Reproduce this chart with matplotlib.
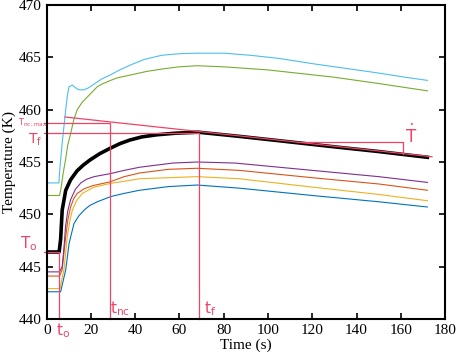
import numpy as np
import matplotlib
matplotlib.use('Agg')
import matplotlib.pyplot as plt

# thermocouple traces (time s, temperature K)
t_cyan = [0, 5.5, 6, 7, 8.6, 9.4, 10.1, 11.6, 13, 14.5, 16.9, 19, 21.4, 25, 29, 33, 37.6, 44, 52, 60, 68, 80, 92, 105, 120, 135, 150, 162, 172]
T_cyan = [453, 453, 454.5, 456.8, 460, 461.4, 462.2, 462.35, 462.1, 461.9, 461.9, 462.1, 462.45, 462.95, 463.35, 463.8, 464.25, 464.8, 465.2, 465.35, 465.4, 465.4, 465.2, 464.9, 464.4, 463.95, 463.5, 463.1, 462.8]

t_green = [0, 5.8, 6.5, 7.5, 8.5, 9.5, 10.8, 12.2, 13.8, 16, 18.3, 22.9, 25.5, 28.9, 32, 37.6, 45, 52.6, 60, 67.8, 79.7, 100, 130, 150, 172]
T_green = [451.8, 451.8, 452.5, 454, 455.2, 456.6, 457.7, 459, 460, 460.7, 461.2, 462.2, 462.5, 462.8, 463.05, 463.3, 463.65, 463.9, 464.1, 464.2, 464.1, 463.8, 463.1, 462.5, 461.8]

t_black = [0, 5.6, 6.3, 7, 8.6, 10.8, 13.7, 16.5, 19.6, 24, 28.6, 33, 37.6, 43, 49.7, 58, 68.4, 87, 100, 130, 150, 172]
T_black = [446.4, 446.4, 447.6, 450.4, 452.3, 453.3, 454.15, 454.7, 455.2, 455.8, 456.3, 456.75, 457.1, 457.4, 457.6, 457.75, 457.85, 457.45, 457.15, 456.45, 456.0, 455.45]

t_purple = [0, 5.8, 7, 8, 8.5, 9.5, 10.8, 13, 15.4, 18, 21.4, 29, 35, 42, 57, 68, 85, 120, 150, 172]
T_purple = [444.5, 444.5, 445, 447.3, 448.8, 450.3, 451.4, 452.4, 453, 453.35, 453.6, 453.9, 454.2, 454.5, 454.9, 455.0, 454.9, 454.2, 453.6, 453.05]

t_red = [0, 5.8, 7, 8.6, 9.6, 10.8, 12.2, 13.8, 17, 21, 28.6, 35, 42, 55, 68, 87, 120, 150, 172]
T_red = [444.1, 444.1, 444.7, 447.9, 449.5, 450.7, 451.5, 452, 452.45, 452.75, 453.1, 453.6, 453.95, 454.3, 454.4, 454.2, 453.5, 452.9, 452.3]

t_yellow = [0, 6, 7.8, 9.3, 10.5, 11.6, 13.5, 16.1, 21.4, 29, 42, 68, 87, 120, 150, 172]
T_yellow = [442.9, 442.9, 444.7, 447.9, 449.4, 450.4, 451.3, 452, 452.6, 452.96, 453.4, 453.6, 453.4, 452.6, 451.9, 451.3]

t_blue = [0, 6.3, 8.6, 10.1, 12.3, 14.5, 16.9, 19.5, 22.9, 29, 35, 42, 55, 68, 87, 120, 150, 172]
T_blue = [442.6, 442.6, 444.7, 447.2, 449.1, 449.85, 450.4, 450.85, 451.2, 451.7, 452.0, 452.3, 452.65, 452.8, 452.5, 451.8, 451.2, 450.7]

# annotation values
t0, t_nc, t_f = 5.7, 28.6, 68.7
T0, T_ncmax, T_f = 446.4, 458.75, 457.8
tan_t = [8.3, 174.1]
tan_T = [459.3, 455.5]

red = '#ee4466'
plt.rcParams['font.family'] = ['Liberation Serif', 'DejaVu Serif']
plt.rcParams['mathtext.fontset'] = 'dejavusans'

fig = plt.figure(figsize=(4.74, 3.6), dpi=100)
ax = fig.add_axes([0.0985, 0.114, 0.8405, 0.872])

ax.plot(t_blue, T_blue, color='#0072BD', lw=0.8)
ax.plot(t_red, T_red, color='#D95319', lw=0.8)
ax.plot(t_yellow, T_yellow, color='#EDB120', lw=0.8)
ax.plot(t_purple, T_purple, color='#7E2F8E', lw=0.8)
ax.plot(t_green, T_green, color='#77AC30', lw=0.8)
ax.plot(t_cyan, T_cyan, color='#4DBEEE', lw=0.8)
ax.plot(t_black, T_black, color='black', lw=2.6)

# construction lines
ax.plot(tan_t, tan_T, color=red, lw=0.9)
ax.plot([-1, t_nc, t_nc], [T_ncmax, T_ncmax, 440], color=red, lw=0.9, clip_on=False)
ax.plot([-1, t_f, t_f], [T_f, T_f, 440], color=red, lw=0.9, clip_on=False)
ax.plot([-1, t0, t0], [T0, T0, 440], color=red, lw=0.9, clip_on=False)
slope = (tan_T[1] - tan_T[0]) / (tan_t[1] - tan_t[0])
ta, tb = 113, 160.9
Ta = tan_T[0] + slope * (ta - tan_t[0])
Tb = tan_T[0] + slope * (tb - tan_t[0])
ax.plot([ta, tb, tb], [Ta, Ta, Tb], color=red, lw=0.9)

kw = dict(color=red, ha='center', va='center', clip_on=False)
ax.text(-8, 447.2, r'$\mathrm{T_o}$', fontsize=11, **kw)
ax.text(-6.3, 458.72, r'$\mathrm{T_{nc,max}}$', fontsize=6, **kw)
ax.text(-5.2, 457.15, r'$\mathrm{T_f}$', fontsize=10, **kw)
ax.text(7.2, 438.9, r'$\mathrm{t_o}$', fontsize=11, **kw)
ax.text(33, 441.0, r'$\mathrm{t_{nc}}$', fontsize=11, **kw)
ax.text(73.8, 441.0, r'$\mathrm{t_f}$', fontsize=11, **kw)
ax.text(164.6, 457.5, r'$\mathrm{\dot{T}}$', fontsize=12, **kw)

ax.set_xlim(0, 180)
ax.set_ylim(440, 470)
ax.set_xticks(np.arange(0, 181, 20))
ax.set_yticks(np.arange(440, 471, 5))
ax.tick_params(direction='in', length=4, width=1.2, top=True, right=True, labelsize=11)
for s in ax.spines.values():
	s.set_linewidth(1.5)
ax.set_xlabel('Time (s)', fontsize=11, labelpad=1)
ax.set_ylabel('Temperature (K)', fontsize=11, labelpad=2)

fig.savefig('out.png', dpi=100)
